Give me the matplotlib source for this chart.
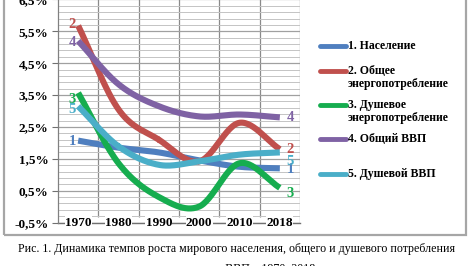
import numpy as np
import matplotlib
matplotlib.use("Agg")
import matplotlib.pyplot as plt
from matplotlib.lines import Line2D
from matplotlib.patches import Rectangle

plt.rcParams['font.family'] = ['Liberation Serif', 'DejaVu Serif']

years = ['1970', '1980', '1990', '2000', '2010', '2018']
labels = ['1. Население', '2. Общее\nэнергопотребление', '3. Душевое\nэнергопотребление',
          '4. Общий ВВП', '5. Душевой ВВП']
colors = ['#4f7fbf', '#c0504d', '#16ad4f', '#7f62a4', '#4aaec8']

population = [2.07, 1.85, 1.70, 1.45, 1.25, 1.20]
energy_total = [5.68, 3.05, 2.10, 1.42, 2.63, 1.80]
energy_pc = [3.57, 1.36, 0.30, 0.00, 1.36, 0.59]
gdp_total = [5.20, 3.84, 3.15, 2.83, 2.89, 2.80]
gdp_pc = [3.15, 1.89, 1.31, 1.42, 1.63, 1.70]
series = [population, energy_total, energy_pc, gdp_total, gdp_pc]

ytick_vals = [-0.5, 0.5, 1.5, 2.5, 3.5, 4.5, 5.5, 6.5]
ytick_text = ['-0,5%', '0,5%', '1,5%', '2,5%', '3,5%', '4,5%', '5,5%', '6,5%']

# where the series numbers sit (value axis units)
start_num_y = [2.04, 5.73, 3.36, 5.16, 3.05]
end_num_y = [1.16, 1.80, 0.40, 2.80, 1.42]


def smooth(xs, ys, n=30):
    # catmull-rom, like Excel's smoothed lines
    xs = np.asarray(xs, float)
    ys = np.asarray(ys, float)
    px = np.concatenate([[2 * xs[0] - xs[1]], xs, [2 * xs[-1] - xs[-2]]])
    py = np.concatenate([[2 * ys[0] - ys[1]], ys, [2 * ys[-1] - ys[-2]]])
    outx, outy = [], []
    t = np.linspace(0, 1, n)
    for i in range(1, len(px) - 2):
        for p, out in ((px, outx), (py, outy)):
            p0, p1, p2, p3 = p[i - 1], p[i], p[i + 1], p[i + 2]
            out.extend(0.5 * (2 * p1 + (-p0 + p2) * t
                              + (2 * p0 - 5 * p1 + 4 * p2 - p3) * t ** 2
                              + (-p0 + 3 * p1 - 3 * p2 + p3) * t ** 3))
    return np.array(outx), np.array(outy)


fig = plt.figure(figsize=(4.74, 2.66), dpi=100)
ax = fig.add_axes([58 / 474, 1 - 222.5 / 266, 242 / 474, 223 / 266])

x = np.arange(len(years))
for i, vals in enumerate(series):
    sx, sy = smooth(x, vals)
    ax.plot(sx, sy, color=colors[i], lw=4.4, solid_capstyle='butt', zorder=3)

ax.set_xlim(-0.5, len(years) - 0.5)
ax.set_ylim(-0.5, 6.5)
ax.set_yticks(ytick_vals)
ax.set_yticklabels(ytick_text, fontweight='bold', fontsize=9.5)
ax.set_yticks(np.arange(-0.5, 6.51, 0.2), minor=True)
ax.set_xticks([])
ax.tick_params(axis='y', which='major', length=4, color='#707070', pad=3)
ax.tick_params(axis='y', which='minor', length=0)
ax.grid(axis='y', which='major', color='#a0a0a0', lw=0.9)
ax.grid(axis='y', which='minor', color='#c4c4c4', lw=0.7)
ax.vlines(np.arange(0.5, len(years) - 0.5, 1.0), -0.33, 6.5, color='#8a8a8a', lw=0.9, zorder=1)
ax.vlines([len(years) - 0.5], -0.5, 6.5, color='#8a8a8a', lw=0.9, zorder=1)
for s in ax.spines.values():
    s.set_visible(False)
ax.spines['left'].set_visible(True)
ax.spines['left'].set_color('#808080')
ax.spines['left'].set_linewidth(0.9)
ax.axhline(-0.5, color='#707070', lw=1.0, zorder=1, clip_on=False)

# year labels sit on the bottom line
for xi, yr in zip(x, years):
    ax.text(xi, -0.5, yr, ha='center', va='center', fontsize=9.5, fontweight='bold',
            zorder=2, clip_on=False,
            bbox=dict(facecolor='white', edgecolor='none', pad=0.2))

# series numbers at both ends
for i in range(len(series)):
    ax.text(-0.15, start_num_y[i], str(i + 1), color=colors[i], fontsize=10.5,
            fontweight='bold', ha='center', va='center', zorder=4)
    ax.text(5.26, end_num_y[i], str(i + 1), color=colors[i], fontsize=10.5,
            fontweight='bold', ha='center', va='center', zorder=4, clip_on=False)

# legend drawn by hand
leg_y = [46, 71, 105, 139, 174]
for i, lab in enumerate(labels):
    for k, line in enumerate(lab.split('\n')):
        fig.text(348 / 474, 1 - (leg_y[i] + 13 * k) / 266, line, fontsize=8.5,
                 fontweight='bold', ha='left', va='center')
    yf = 1 - leg_y[i] / 266
    fig.add_artist(Line2D([320 / 474, 346 / 474], [yf, yf], color=colors[i], lw=3.5,
                          solid_capstyle='round'))

# outer frame
fig.add_artist(Rectangle((4 / 474, 1 - 235 / 266), 462 / 474, 240 / 266,
                         transform=fig.transFigure, fill=False, ec='#a6a6a6', lw=1.6))

fig.text(0.5, 1 - 252 / 266, 'Рис. 1. Динамика темпов роста мирового населения, общего и душевого потребления',
         ha='center', va='baseline', fontsize=8.6)
fig.text(0.53, -6 / 266, 'энергии и ВВП в 1970–2018 гг.', ha='center', va='baseline', fontsize=8.6)

fig.savefig('out.png', dpi=100)
